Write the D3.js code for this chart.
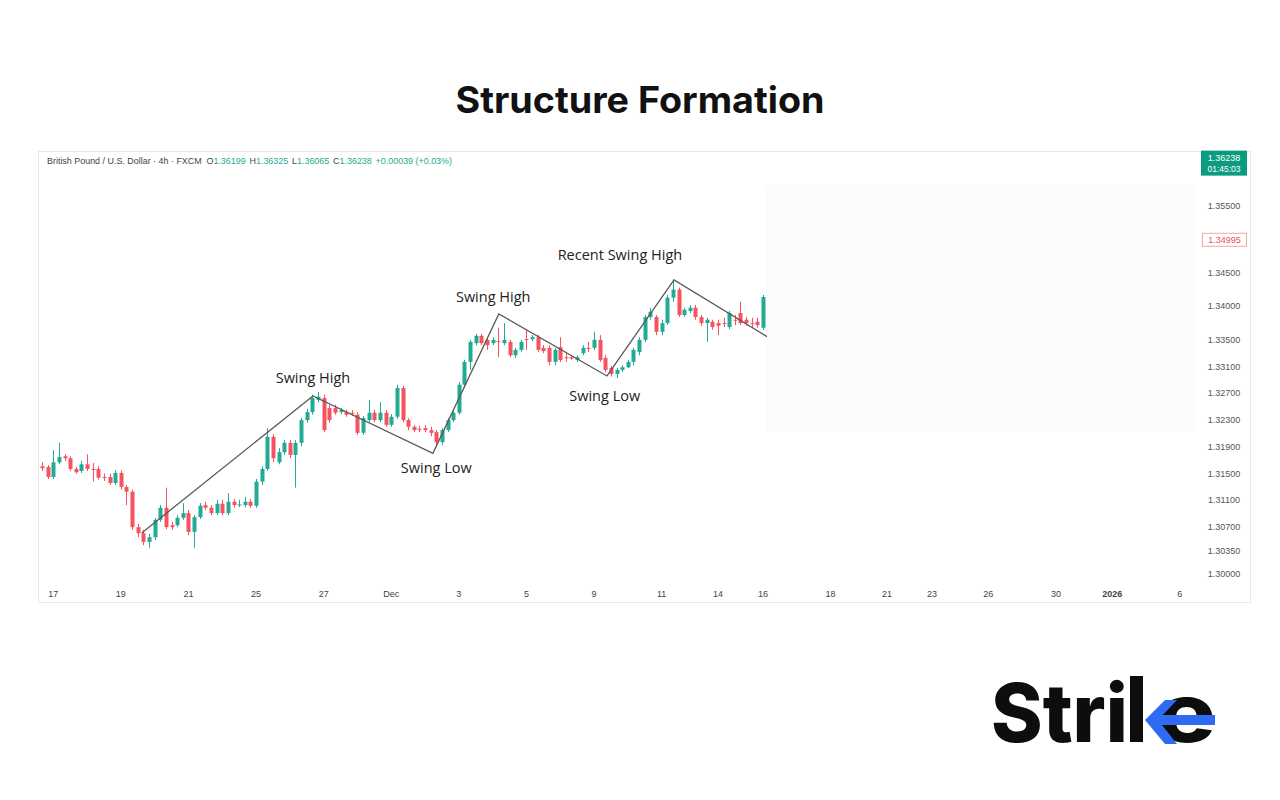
<!DOCTYPE html>
<html><head><meta charset="utf-8">
<script src="https://cdn.jsdelivr.net/npm/d3@7"></script>
<style>body{margin:0;background:#fff}svg{display:block}</style>
</head><body>
<svg id="c" width="1280" height="800"></svg>
<script>
// ---- DATA (GBP/USD 4h candles) ----
const opens = [
1.3161,1.3160,1.3145,1.3167,1.3176,1.3173,1.3157,1.3154,1.3164,1.3157,
1.3157,1.3145,1.3145,1.3136,1.3151,1.3130,1.3123,1.3070,1.3061,1.3048,
1.3055,1.3081,1.3099,1.3073,1.3073,1.3084,1.3091,1.3063,1.3085,1.3103,
1.3099,1.3091,1.3105,1.3091,1.3108,1.3103,1.3103,1.3108,1.3102,1.3138,
1.3157,1.3205,1.3167,1.3182,1.3196,1.3178,1.3196,1.3230,1.3242,1.3260,
1.3263,1.3248,1.3248,1.3242,1.3242,1.3241,1.3238,1.3211,1.3230,1.3241,
1.3230,1.3241,1.3223,1.3235,1.3278,1.3230,1.3220,1.3217,1.3218,1.3215,
1.3212,1.3197,1.3215,1.3230,1.3241,1.3283,1.3317,1.3345,1.3356,1.3350,
1.3345,1.3348,1.3345,1.3347,1.3327,1.3335,1.3351,1.3351,1.3354,1.3338,
1.3338,1.3317,1.3339,1.3324,1.3324,1.3320,1.3330,1.3338,1.3338,1.3350,
1.3323,1.3308,1.3299,1.3305,1.3309,1.3317,1.3332,1.3350,1.3384,1.3384,
1.3362,1.3375,1.3413,1.3425,1.3387,1.3393,1.3398,1.3384,1.3375,1.3377,
1.3375,1.3375,1.3369,1.3380,1.3390,1.3380,1.3375,1.3377,1.3368];
const highs = [
1.3167,1.3163,1.3185,1.3196,1.3179,1.3176,1.3160,1.3169,1.3179,1.3166,
1.3161,1.3150,1.3150,1.3155,1.3155,1.3133,1.3126,1.3075,1.3066,1.3060,
1.3084,1.3103,1.3129,1.3078,1.3088,1.3106,1.3096,1.3088,1.3106,1.3108,
1.3103,1.3111,1.3111,1.3121,1.3112,1.3111,1.3115,1.3112,1.3142,1.3161,
1.3218,1.3209,1.3188,1.3200,1.3200,1.3200,1.3233,1.3247,1.3268,1.3272,
1.3268,1.3253,1.3253,1.3248,1.3245,1.3245,1.3242,1.3236,1.3260,1.3245,
1.3257,1.3245,1.3239,1.3283,1.3281,1.3233,1.3223,1.3221,1.3223,1.3220,
1.3215,1.3218,1.3233,1.3245,1.3287,1.3320,1.3350,1.3359,1.3359,1.3354,
1.3354,1.3368,1.3375,1.3350,1.3338,1.3350,1.3365,1.3357,1.3357,1.3342,
1.3342,1.3338,1.3354,1.3330,1.3327,1.3327,1.3342,1.3347,1.3362,1.3357,
1.3327,1.3311,1.3308,1.3312,1.3320,1.3338,1.3354,1.3387,1.3398,1.3387,
1.3380,1.3417,1.3440,1.3428,1.3398,1.3402,1.3402,1.3387,1.3383,1.3380,
1.3380,1.3383,1.3393,1.3387,1.3407,1.3384,1.3383,1.3383,1.3417];
const lows = [
1.3154,1.3142,1.3142,1.3164,1.3169,1.3154,1.3150,1.3151,1.3154,1.3138,
1.3141,1.3139,1.3133,1.3133,1.3126,1.3103,1.3066,1.3055,1.3043,1.3039,
1.3051,1.3078,1.3067,1.3066,1.3070,1.3081,1.3058,1.3039,1.3082,1.3096,
1.3088,1.3088,1.3088,1.3088,1.3099,1.3100,1.3100,1.3099,1.3099,1.3133,
1.3154,1.3167,1.3164,1.3178,1.3173,1.3129,1.3191,1.3226,1.3238,1.3257,
1.3212,1.3226,1.3238,1.3239,1.3235,1.3236,1.3208,1.3208,1.3227,1.3227,
1.3227,1.3220,1.3220,1.3232,1.3227,1.3215,1.3212,1.3212,1.3212,1.3206,
1.3190,1.3193,1.3212,1.3227,1.3238,1.3278,1.3305,1.3342,1.3342,1.3335,
1.3342,1.3324,1.3342,1.3324,1.3323,1.3332,1.3335,1.3348,1.3332,1.3330,
1.3312,1.3312,1.3317,1.3317,1.3320,1.3317,1.3327,1.3332,1.3335,1.3317,
1.3302,1.3295,1.3293,1.3302,1.3308,1.3312,1.3327,1.3347,1.3380,1.3357,
1.3357,1.3372,1.3407,1.3384,1.3384,1.3390,1.3380,1.3371,1.3347,1.3365,
1.3357,1.3369,1.3366,1.3372,1.3372,1.3371,1.3368,1.3368,1.3365];
const closes = [
1.3158,1.3145,1.3167,1.3175,1.3173,1.3157,1.3152,1.3164,1.3157,1.3156,
1.3144,1.3144,1.3136,1.3151,1.3130,1.3123,1.3070,1.3061,1.3048,1.3055,
1.3081,1.3099,1.3070,1.3070,1.3084,1.3091,1.3063,1.3085,1.3102,1.3099,
1.3091,1.3105,1.3091,1.3108,1.3103,1.3104,1.3108,1.3102,1.3138,1.3157,
1.3205,1.3173,1.3182,1.3196,1.3178,1.3196,1.3230,1.3242,1.3263,1.3265,
1.3215,1.3230,1.3241,1.3245,1.3238,1.3240,1.3211,1.3233,1.3241,1.3230,
1.3241,1.3223,1.3235,1.3278,1.3230,1.3220,1.3215,1.3216,1.3215,1.3211,
1.3197,1.3215,1.3230,1.3241,1.3283,1.3317,1.3347,1.3356,1.3345,1.3342,
1.3350,1.3347,1.3350,1.3327,1.3335,1.3347,1.3350,1.3354,1.3335,1.3333,
1.3317,1.3335,1.3320,1.3323,1.3322,1.3324,1.3338,1.3337,1.3350,1.3320,
1.3305,1.3299,1.3305,1.3309,1.3317,1.3335,1.3350,1.3384,1.3392,1.3362,
1.3375,1.3413,1.3425,1.3387,1.3395,1.3398,1.3384,1.3375,1.3380,1.3369,
1.3371,1.3374,1.3390,1.3379,1.3375,1.3375,1.3374,1.3372,1.3414];

const priceTicks = [1.355,1.345,1.340,1.335,1.331,1.327,1.323,1.319,1.315,1.311,1.307,1.3035,1.300];
const timeTickIndex = [2,14,26,38,50,62,74,86,98,110,120,128,140,150,158,168,180,190,202];
const timeTickLabels = ["17","19","21","25","27","Dec","3","5","9","11","14","16","18","21","23","26","30","2026","6"];
const boldTimeLabels = ["2026"];

const zigzagIndex = [17.7,48.1,69.4,81.1,100.3,112.2,128.7];
const zigzagPrice = [1.30613,1.32661,1.31804,1.33887,1.32960,1.34395,1.33548];

const noteTexts = ["Swing High","Swing Low","Swing High","Swing Low","Recent Swing High"];
const noteIndex = [48.1,70.0,80.1,99.9,102.6];
const notePrice = [1.3293,1.3158,1.3414,1.3266,1.3477];

const lastPrice = 1.36238, lastTimer = "01:45:03";
const alertPrice = 1.34995;
const headerName = "British Pound / U.S. Dollar \u00b7 4h \u00b7 FXCM";
const headerKeys = ["O","H","L","C"];
const headerVals = ["1.36199","1.36325","1.36065","1.36238"];
const headerChange = "+0.00039 (+0.03%)";

// ---- DRAW ----
const svg = d3.select("#c");
const GREEN = "#22ab94", RED = "#f7525f";

svg.append("rect").attr("width",1280).attr("height",800).attr("fill","#fff");

svg.append("text").attr("x",640).attr("y",113).attr("text-anchor","middle")
  .attr("font-family","Inter, 'Noto Sans', sans-serif").attr("font-weight",700)
  .attr("font-size",37).attr("fill","#111").attr("textLength",369)
  .attr("lengthAdjust","spacingAndGlyphs").text("Structure Formation");

// panel
svg.append("rect").attr("x",38.5).attr("y",151.5).attr("width",1212).attr("height",451)
  .attr("fill","#fff").attr("stroke","#e8e8e8");
// faint future-area box
svg.append("rect").attr("x",766).attr("y",185).attr("width",430).attr("height",247)
  .attr("fill","#fcfcfc");

const x = d3.scaleLinear().domain([0,128]).range([42,763]);
const y = d3.scaleLinear().domain([1.300,1.355]).range([574,206]);

// header legend
const ht = svg.append("text").attr("x",47).attr("y",164)
  .attr("font-family","'Liberation Sans', Arial, sans-serif").attr("font-size",9.3)
  .attr("fill","#444").attr("textLength",405).attr("lengthAdjust","spacingAndGlyphs");
ht.append("tspan").text(headerName);
headerKeys.forEach((k,i)=>{
  ht.append("tspan").attr("dx", i===0?5:4).attr("fill","#444").text(k);
  ht.append("tspan").attr("fill",GREEN).text(headerVals[i]);
});
ht.append("tspan").attr("dx",4).attr("fill",GREEN).text(headerChange);

// candles
const data = d3.range(opens.length).map(i=>({i,o:opens[i],h:highs[i],l:lows[i],c:closes[i]}));
const cg = svg.append("g");
cg.selectAll("line.w").data(data).join("line")
  .attr("x1",d=>Math.round(x(d.i))+0.5).attr("x2",d=>Math.round(x(d.i))+0.5)
  .attr("y1",d=>y(d.h)).attr("y2",d=>y(d.l))
  .attr("stroke",d=>d.c>=d.o?GREEN:RED).attr("stroke-width",1);
cg.selectAll("rect.b").data(data).join("rect")
  .attr("x",d=>Math.round(x(d.i))-1.5).attr("width",4)
  .attr("y",d=>Math.min(y(d.o),y(d.c)))
  .attr("height",d=>Math.max(1,Math.abs(y(d.o)-y(d.c))))
  .attr("fill",d=>d.c>=d.o?GREEN:RED);

// zigzag
const zz = zigzagIndex.map((v,i)=>[x(v),y(zigzagPrice[i])]);
svg.append("path").attr("d",d3.line()(zz)).attr("fill","none")
  .attr("stroke","#5a5a5a").attr("stroke-width",1.3);

// notes
noteTexts.forEach((t,i)=>{
  svg.append("text").attr("x",x(noteIndex[i])).attr("y",y(notePrice[i])+5)
    .attr("text-anchor","middle").attr("font-family","'Open Sans', 'Noto Sans', sans-serif")
    .attr("font-size",14.5).attr("fill","#222").text(t);
});

// price axis
const fmt = d3.format(".5f");
priceTicks.forEach(v=>{
  svg.append("text").attr("x",1224).attr("y",y(v)+3).attr("text-anchor","middle")
    .attr("font-family","'Liberation Sans', Arial, sans-serif").attr("font-size",9)
    .attr("fill","#555").text(fmt(v));
});
// alert label
svg.append("rect").attr("x",1202.5).attr("y",y(alertPrice)-6.5).attr("width",44).attr("height",13)
  .attr("fill","#fff").attr("stroke","#f4a3aa");
svg.append("text").attr("x",1224.5).attr("y",y(alertPrice)+3).attr("text-anchor","middle")
  .attr("font-family","'Liberation Sans', Arial, sans-serif").attr("font-size",9)
  .attr("fill","#e9505c").text(fmt(alertPrice));
// last price box
svg.append("rect").attr("x",1201).attr("y",y(lastPrice)-6).attr("width",46).attr("height",25)
  .attr("fill","#0b9b7f");
svg.append("text").attr("x",1224).attr("y",y(lastPrice)+4).attr("text-anchor","middle")
  .attr("font-family","'Liberation Sans', Arial, sans-serif").attr("font-size",9)
  .attr("fill","#fff").text(fmt(lastPrice));
svg.append("text").attr("x",1224).attr("y",y(lastPrice)+15).attr("text-anchor","middle")
  .attr("font-family","'Liberation Sans', Arial, sans-serif").attr("font-size",8.5)
  .attr("fill","#fff").text(lastTimer);

// time axis
timeTickIndex.forEach((v,i)=>{
  const lab = timeTickLabels[i];
  svg.append("text").attr("x",x(v)).attr("y",597).attr("text-anchor","middle")
    .attr("font-family","'Liberation Sans', Arial, sans-serif").attr("font-size",9)
    .attr("font-weight", boldTimeLabels.includes(lab)?700:400)
    .attr("fill","#444").text(lab);
});

// logo
const lg = svg.append("g");
lg.append("text").attr("x",991).attr("y",742)
  .attr("font-family","Inter, 'Noto Sans', sans-serif").attr("font-weight",800)
  .attr("font-size",81).attr("fill","#0d0d0d").attr("textLength",137)
  .attr("lengthAdjust","spacingAndGlyphs").text("Stri");
lg.append("rect").attr("x",1130).attr("y",676).attr("width",13).attr("height",66).attr("fill","#0d0d0d");
lg.append("text").attr("x",1156).attr("y",742)
  .attr("font-family","Inter, 'Noto Sans', sans-serif").attr("font-weight",800)
  .attr("font-size",81).attr("fill","#0d0d0d").attr("textLength",60)
  .attr("lengthAdjust","spacingAndGlyphs").text("e");
lg.append("rect").attr("x",1150).attr("y",715).attr("width",65).attr("height",10).attr("fill","#2f6bf2");
lg.append("polygon").attr("points","1165,700 1177,700 1158,720 1177,744 1165,744 1145,720")
  .attr("fill","#2f6bf2");
</script>
</body></html>
